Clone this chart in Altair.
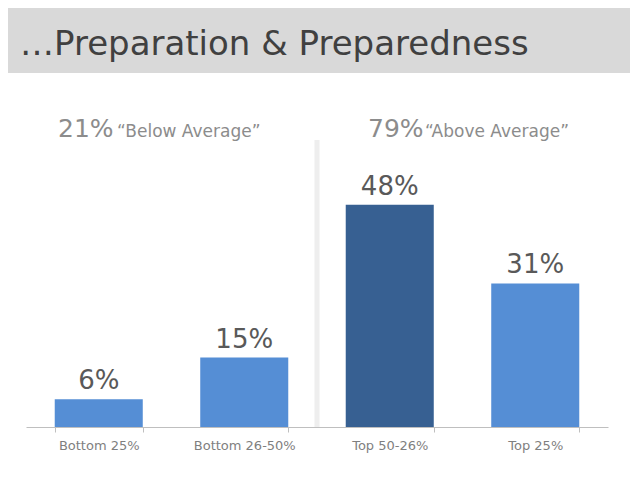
import altair as alt
import pandas as pd

# ---- data ----
categories = ["Bottom 25%", "Bottom 26-50%", "Top 50-26%", "Top 25%"]
values = [6, 15, 48, 31]
highlight = ["normal", "normal", "dark", "normal"]
title_text = "…Preparation & Preparedness"
group_pcts = ["21%", "79%"]
group_names = ["“Below Average”", "“Above Average”"]

FONT = "DejaVu Sans"

df = pd.DataFrame({
    "cat": categories,
    "val": values,
    "hl": highlight,
    "label": [f"{v}%" for v in values],
})
one = pd.DataFrame({"a": [0]})

xscale = alt.Scale(domain=categories, range=[18, 600], paddingInner=0.395, paddingOuter=0.1975)
yscale = alt.Scale(domain=[0, 90.5])

x_enc = alt.X("cat:N", sort=categories, scale=xscale,
              axis=alt.Axis(title=None, domainColor="#bfbfbf", tickColor="#bfbfbf",
                            tickSize=5, tickBand="extent", labelFont=FONT,
                            labelFontSize=13, labelColor="#7f7f7f", labelPadding=7,
                            labelAngle=0, grid=False))

band = alt.Chart(one).mark_rect(color="#d9d9d9").encode(
    x=alt.value(0), x2=alt.value(622), y=alt.value(0), y2=alt.value(65))

title = alt.Chart(one).mark_text(
    text=title_text, font=FONT, fontSize=34, color="#404040",
    align="left", baseline="alphabetic").encode(x=alt.value(12), y=alt.value(47))

sep = alt.Chart(one).mark_rule(color="#eeeeee", strokeWidth=5).encode(
    x=alt.value(309), y=alt.value(132), y2=alt.value(419))

bars = alt.Chart(df).mark_bar().encode(
    x=x_enc,
    y=alt.Y("val:Q", scale=yscale, axis=None),
    color=alt.Color("hl:N", scale=alt.Scale(domain=["normal", "dark"],
                                            range=["#558ed5", "#376092"]), legend=None),
)

labels = alt.Chart(df).mark_text(
    font=FONT, fontSize=26, color="#595959", baseline="alphabetic", dy=-10).encode(
    x=alt.X("cat:N", sort=categories, scale=xscale),
    y=alt.Y("val:Q", scale=yscale),
    text="label:N")

hdrs = []
for pct, name, xp, xn in [(group_pcts[0], group_names[0], 50, 109),
                          (group_pcts[1], group_names[1], 360, 417)]:
    hdrs.append(alt.Chart(one).mark_text(text=pct, font=FONT, fontSize=25, color="#8c8c8c",
                                         align="left", baseline="alphabetic").encode(
        x=alt.value(xp), y=alt.value(129)))
    hdrs.append(alt.Chart(one).mark_text(text=name, font=FONT, fontSize=17, color="#8c8c8c",
                                         align="left", baseline="alphabetic").encode(
        x=alt.value(xn), y=alt.value(129)))

chart = alt.layer(band, title, sep, bars, labels, *hdrs).properties(
    width=622, height=419,
    autosize=alt.AutoSizeParams(type="none"),
    padding={"left": 0, "top": 0, "right": 0, "bottom": 43},
).configure_view(stroke=None).resolve_scale(x="shared", y="shared")

chart.save("out.html", embed_options={"renderer": "svg", "actions": False})
